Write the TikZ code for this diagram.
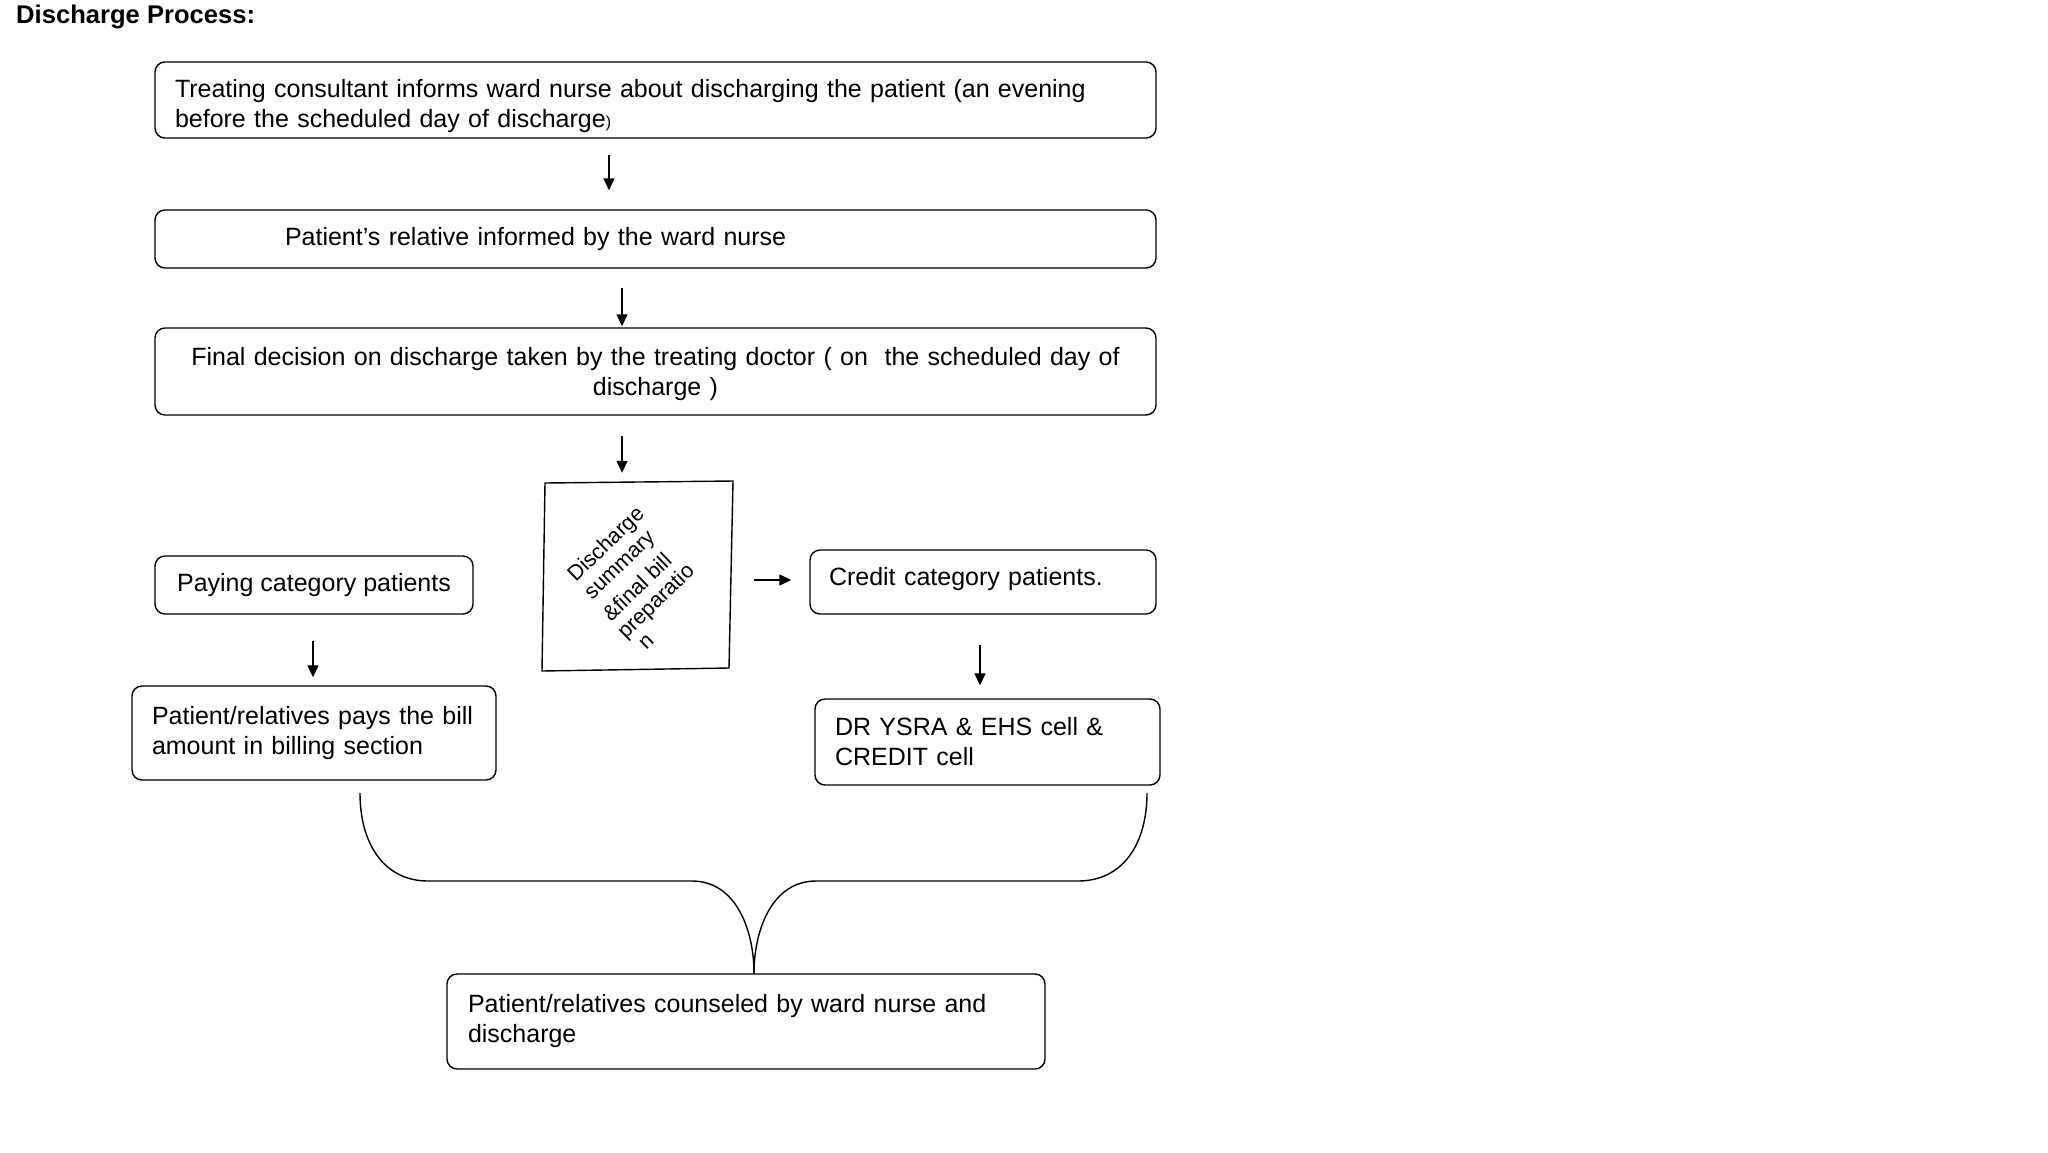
\documentclass[tikz,border=0pt]{standalone}
\usepackage{fontspec}
\setmainfont{Liberation Sans}
\usetikzlibrary{arrows.meta}
\newcommand\bodyfont{\fontsize{25}{30}\selectfont}
\newcommand\smallfnt{\fontsize{21.5}{26}\selectfont}
\tikzset{
  box/.style={draw, line width=1.4pt, rounded corners=10pt, inner ysep=0pt, font=\bodyfont},
  arr/.style={line width=1.3pt, -{Triangle[length=12pt,width=11pt]}},
  bracepath/.style={line width=1.4pt},
  sqline/.style={line width=1.4pt},
  rottext/.style={rotate=44, font=\smallfnt, inner sep=0pt},
}
\begin{document}
\begin{tikzpicture}[x=1pt, y=-1pt]
\fill[white] (0,0) rectangle (2048,1152);
\useasboundingbox (0,0) rectangle (2048,1152);

\node[anchor=west, inner sep=0pt, font=\bfseries\fontsize{25.6}{30}\selectfont] (title) at (16,17) {Discharge Process:};

\node[box, text width=961pt, inner xsep=20pt, minimum height=76pt, align=left] (b1) at (655.5,100)
  {\rule{0pt}{31pt}Treating consultant informs ward nurse about discharging the patient (an evening\\before the scheduled day of discharge{\fontsize{16}{16}\selectfont )}};

\node[box, text width=741pt, inner xsep=130pt, minimum height=58pt, align=left] (b2) at (655.5,239)
  {Patient’s relative informed by the ward nurse};

\node[box, text width=961pt, inner xsep=20pt, minimum height=87pt, align=center] (b3) at (655.5,371.5)
  {\rule{0pt}{23.5pt}Final decision on discharge taken by the treating doctor ( on\ \ the scheduled day of\\discharge )};

% skewed square with rotated text
\node[minimum width=188pt, minimum height=188pt] (sq) at (637,576) {};
\coordinate (sqa) at (545,483);
\coordinate (sqb) at (733,481);
\coordinate (sqc) at (729,668);
\coordinate (sqd) at (542,671);
\draw[sqline] (sqa) -- (sqb) -- (sqc) -- (sqd) -- cycle;
\node[rottext] (r1) at (606.7,545) {Discharge};
\node[rottext] (r2) at (621.7,567) {summary};
\node[rottext] (r3) at (636.7,586.7) {\&final bill};
\node[rottext] (r4) at (656.7,602) {preparatio};
\node[rottext] (r5) at (646.7,641.7) {n};

\node[box, minimum width=318pt, minimum height=58pt] (pay) at (314,585) {Paying category patients};

\node[box, text width=308pt, inner xsep=19pt, minimum height=64pt, align=left] (cred) at (983,582)
  {Credit category patients.\rule[-10.5pt]{0pt}{0pt}};

\node[box, text width=324pt, inner xsep=20pt, minimum height=94pt, align=left] (pays) at (314,733)
  {Patient/relatives pays the bill\\amount in billing section};

\node[box, text width=305pt, inner xsep=20pt, minimum height=86pt, align=left] (dr) at (987.5,742)
  {DR YSRA \& EHS cell \&\\CREDIT cell};

\node[box, text width=556pt, inner xsep=21pt, minimum height=95pt, align=left] (bot) at (746,1021.5)
  {Patient/relatives counseled by ward nurse and\\discharge};

% arrows
\draw[arr] ([xshift=-46.5pt,yshift=-16pt]b1.south) -- ([xshift=-46.5pt,yshift=19pt]b2.north);
\draw[arr] ([xshift=-33.5pt,yshift=-19pt]b2.south) -- ([xshift=-33.5pt,yshift=1pt]b3.north);
\draw[arr] ([xshift=-33.5pt,yshift=-20pt]b3.south) -- ([xshift=-15pt,yshift=9pt]sq.north);
\draw[arr] ([xshift=23pt,yshift=-4pt]sq.east) -- ([xshift=-18pt,yshift=2pt]cred.west);
\draw[arr] ([xshift=-1pt,yshift=-26pt]pay.south) -- ([xshift=-1pt,yshift=8pt]pays.north);
\draw[arr] ([xshift=-3pt,yshift=-30pt]cred.south) -- ([xshift=-7.5pt,yshift=13pt]dr.north);

% brace
\coordinate (bl) at (360,793);
\coordinate (br) at (1147,793);
\coordinate (tip) at ([xshift=8pt]bot.north);
\draw[bracepath] (bl) .. controls (360,845) and (385,881) .. (428,881) -- (692,881)
  .. controls (736,881) and (754,930) .. (tip);
\draw[bracepath] (br) .. controls (1147,845) and (1122,881) .. (1078,881) -- (816,881)
  .. controls (772,881) and (754,930) .. (tip);
\end{tikzpicture}
\end{document}
